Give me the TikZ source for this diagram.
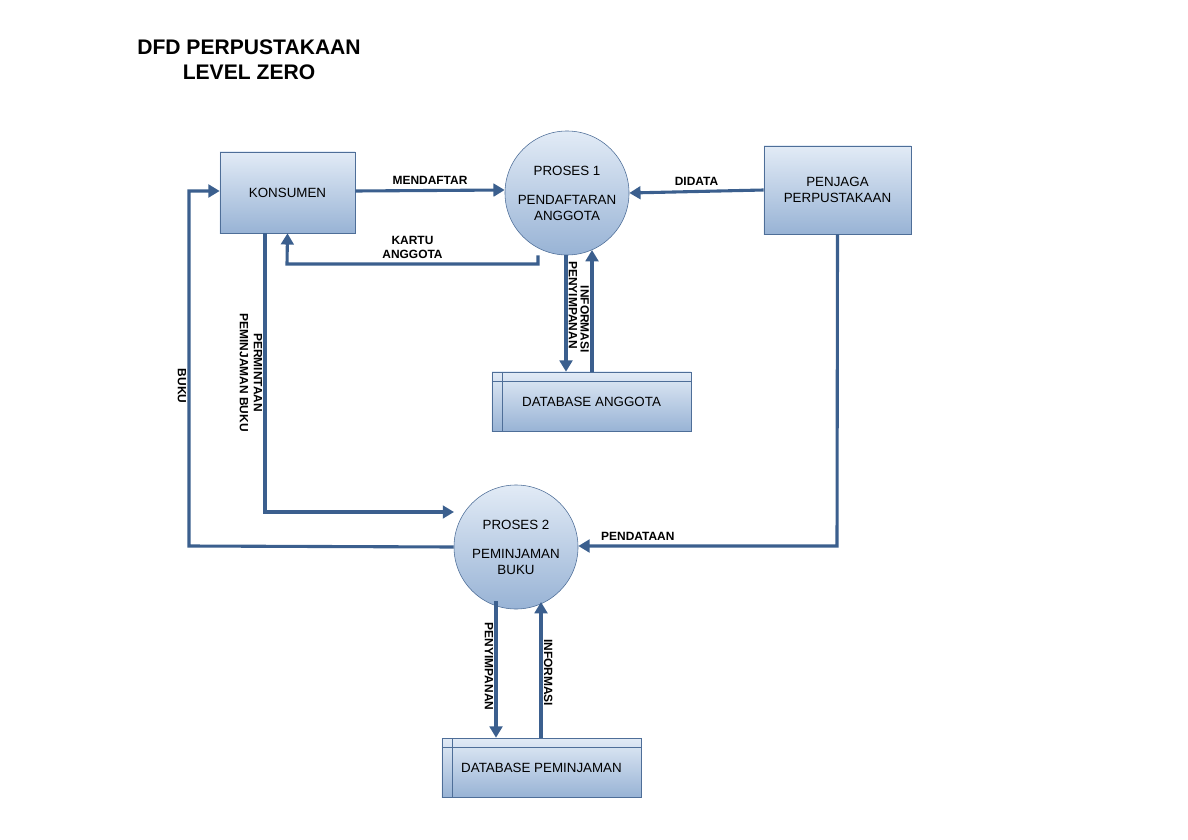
\documentclass[tikz,border=0pt]{standalone}
\usepackage{fontspec}
\setmainfont{Liberation Sans}
\usetikzlibrary{arrows.meta}
\definecolor{flowblue}{HTML}{3B5F8E}
\definecolor{edgeblue}{HTML}{4E6E98}
\definecolor{topblue}{HTML}{E2EBF6}
\definecolor{botblue}{HTML}{98B3D5}
\tikzset{
    entity/.style={draw=edgeblue, top color=topblue, bottom color=botblue, align=center, font=\fontsize{9.5}{11}\selectfont, inner sep=2pt},
    process/.style={draw=edgeblue, circle, top color=topblue, bottom color=botblue, align=center, minimum size=3.1cm, font=\fontsize{9.5}{11}\selectfont, inner sep=0pt},
    store/.style={entity, minimum width=4.975cm, minimum height=1.475cm,
        path picture={\draw[edgeblue] ([xshift=0.25cm]path picture bounding box.north west) -- ([xshift=0.25cm]path picture bounding box.south west);
                      \draw[edgeblue] ([yshift=-0.225cm]path picture bounding box.north west) -- ([yshift=-0.225cm]path picture bounding box.north east);}},
    flow/.style={draw=flowblue, line width=2.2pt, -{Triangle[length=8pt,width=9pt]}},
    lbl/.style={font=\bfseries\fontsize{8.5}{10}\selectfont, align=center, inner sep=1pt}
}
\begin{document}
\begin{tikzpicture}[x=0.025cm, y=-0.025cm]
    \useasboundingbox (0,0) rectangle (1188,840);
    \node[font=\bfseries\fontsize{15}{18}\selectfont, align=center] (title) at (249,60) {DFD PERPUSTAKAAN\\LEVEL ZERO};

    \node[entity, minimum width=3.375cm, minimum height=2.025cm] (konsumen) at (287.5,192.5) {KONSUMEN};
    \node[entity, minimum width=3.675cm, minimum height=2.2cm] (penjaga) at (837.5,190) {PENJAGA\\PERPUSTAKAAN};
    \node[process] (p1) at (567,193) {PROSES 1\\[10pt]PENDAFTARAN\\ANGGOTA};
    \node[process] (p2) at (516,547) {PROSES 2\\[10pt]PEMINJAMAN\\BUKU};
    \node[store] (dbA) at (591.5,401.5) {DATABASE ANGGOTA};
    \node[store] (dbP) at (541.5,767.5) {DATABASE PEMINJAMAN};

    % proses 1
    \draw[flow] (konsumen.east |- 0,191) -- node[lbl, above=2pt] {MENDAFTAR} (p1.west |- 0,190);
    \draw[flow] (penjaga.west |- 0,190) -- node[lbl, above=2pt] {DIDATA} (p1.east);
    \draw[flow] (p1.south -| 538,0) -- (538,264) -- node[lbl, above=2pt] {KARTU\\ANGGOTA} (287,264) -- (konsumen.south);
    \draw[flow] (p1.south -| 566,0) -- node[lbl, rotate=-90, left=6pt, anchor=south] {PENYIMPANAN} (dbA.north -| 566,0);
    \draw[flow] (dbA.north -| 592,0) -- node[lbl, rotate=-90, right=6pt, anchor=north] {INFORMASI} (592,250);

    % proses 2
    \draw[flow] (konsumen.south -| 265,0) -- node[lbl, rotate=-90, anchor=north, pos=0.5] {PERMINTAAN\\PEMINJAMAN BUKU} (265,512) -- (454,512);
    \draw[flow] (p2.west) -- (189,546) -- node[lbl, rotate=-90, anchor=north, pos=0.45] {BUKU} (189,191) -- (konsumen.west |- 0,191);
    \draw[flow] (penjaga.south) -- (837,546) -- node[lbl, above=2pt, pos=0.77] {PENDATAAN} (p2.east |- 0,546);
    \draw[flow] (496,601) -- node[lbl, rotate=-90, anchor=north, xshift=-2pt] {PENYIMPANAN} (dbP.north -| 496,0);
    \draw[flow] (dbP.north -| 541,0) -- node[lbl, rotate=-90, anchor=south, xshift=2pt] {INFORMASI} (541,602);
\end{tikzpicture}
\end{document}
